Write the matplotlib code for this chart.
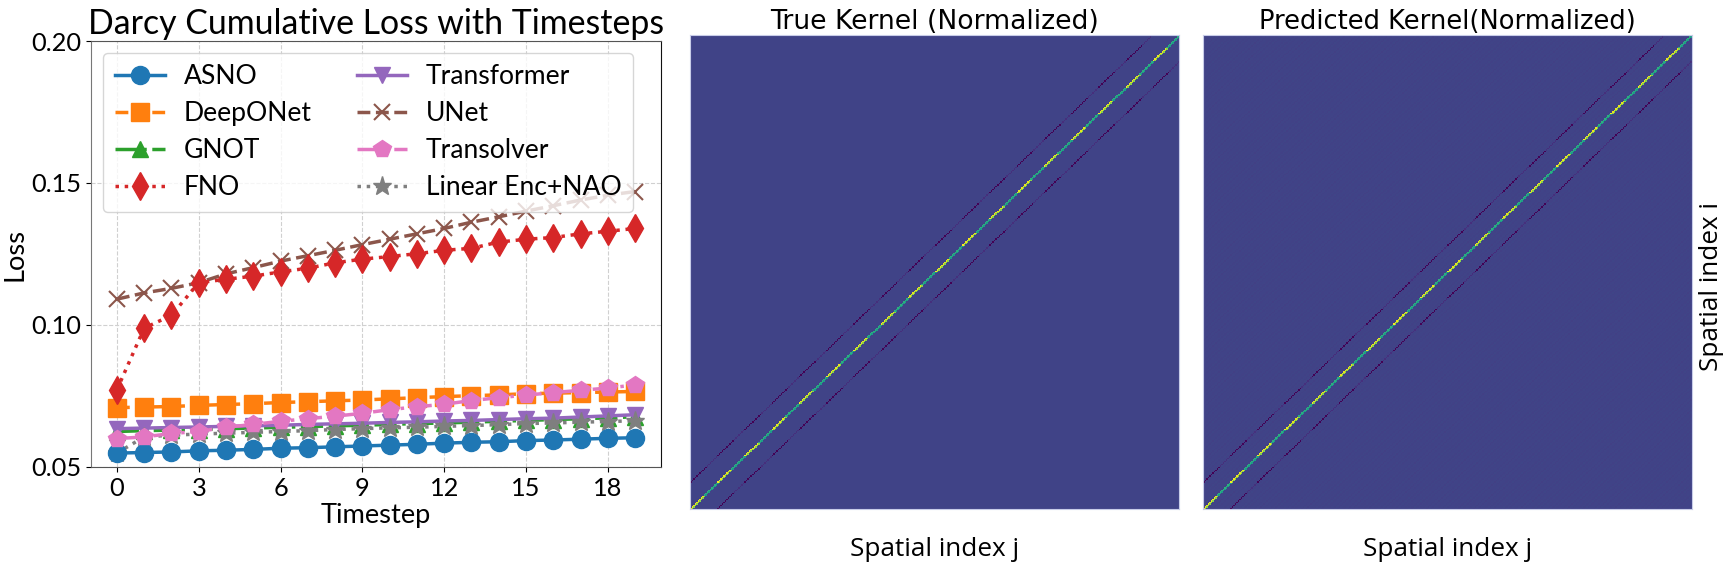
import numpy as np
import matplotlib
matplotlib.use("Agg")
import matplotlib.pyplot as plt

# ---------------- data ----------------
timesteps = list(range(20))
asno = [0.0549, 0.0551, 0.0553, 0.0557, 0.0559, 0.0562, 0.0566, 0.0568, 0.0571, 0.0574,
        0.0577, 0.0580, 0.0584, 0.0587, 0.0589, 0.0593, 0.0595, 0.0598, 0.0601, 0.0603]
deeponet = [0.0709, 0.0711, 0.0713, 0.0717, 0.0720, 0.0723, 0.0727, 0.0730, 0.0733, 0.0736,
            0.0740, 0.0744, 0.0748, 0.0751, 0.0754, 0.0758, 0.0760, 0.0762, 0.0764, 0.0766]
gnot = [0.0625, 0.0628, 0.0630, 0.0632, 0.0635, 0.0637, 0.0640, 0.0642, 0.0645, 0.0647,
        0.0650, 0.0653, 0.0655, 0.0658, 0.0661, 0.0664, 0.0667, 0.0670, 0.0673, 0.0677]
transformer = [0.0635, 0.0637, 0.0639, 0.0641, 0.0643, 0.0645, 0.0647, 0.0650, 0.0652, 0.0654,
               0.0657, 0.0659, 0.0662, 0.0664, 0.0667, 0.0670, 0.0672, 0.0676, 0.0680, 0.0684]
unet = [0.1091, 0.1113, 0.1129, 0.1149, 0.1180, 0.1202, 0.1225, 0.1244, 0.1263, 0.1283,
        0.1302, 0.1321, 0.1340, 0.1362, 0.1381, 0.1401, 0.1420, 0.1440, 0.1457, 0.1470]
fno = [0.0772, 0.0989, 0.1034, 0.1149, 0.1161, 0.1172, 0.1187, 0.1200, 0.1219, 0.1232,
       0.1241, 0.1251, 0.1263, 0.1270, 0.1292, 0.1302, 0.1308, 0.1321, 0.1330, 0.1340]
transolver = [0.0600, 0.0606, 0.0618, 0.0625, 0.0640, 0.0650, 0.0661, 0.0670, 0.0679, 0.0689,
              0.0702, 0.0712, 0.0721, 0.0734, 0.0744, 0.0753, 0.0762, 0.0770, 0.0778, 0.0789]
linear_nao = [0.0549, 0.0606, 0.0612, 0.0616, 0.0619, 0.0622, 0.0625, 0.0628, 0.0632, 0.0635,
              0.0638, 0.0640, 0.0643, 0.0646, 0.0649, 0.0653, 0.0655, 0.0658, 0.0660, 0.0663]

series = [
    ("ASNO", asno, "#1f77b4", "-", "o"),
    ("DeepONet", deeponet, "#ff7f0e", "--", "s"),
    ("GNOT", gnot, "#2ca02c", "-.", "^"),
    ("FNO", fno, "#d62728", ":", "d"),
    ("Transformer", transformer, "#9467bd", "-", "v"),
    ("UNet", unet, "#8c564b", "--", "x"),
    ("Transolver", transolver, "#e377c2", "-.", "p"),
    ("Linear Enc+NAO", linear_nao, "#7f7f7f", ":", "*"),
]
plot_order = ["GNOT", "Transformer", "Linear Enc+NAO", "ASNO", "DeepONet", "Transolver", "UNet", "FNO"]

# kernel structure (normalized kernel on a flattened 2-D grid)
grid_side = 18
n_points = grid_side * grid_side
diag_bright = 0.97
diag_mid = 0.55
offdiag_strong = -0.25
offdiag_weak = -0.08
kernel_vmin, kernel_vmax = -0.25, 1.0

def build_kernel(noise_level):
    K = np.zeros((n_points, n_points))
    idx = np.arange(n_points)
    pos = idx % grid_side
    dvals = np.where(pos < grid_side // 2, diag_bright, diag_mid)
    K[idx, idx] = dvals
    K[idx[:-1], idx[:-1] + 1] = 0.8 * dvals[:-1]
    K[idx[pos == 0], idx[pos == 0]] = 1.0
    off = idx[:-grid_side]
    vals = np.where((off % grid_side) < grid_side // 2 + 2, offdiag_strong, offdiag_weak)
    K[off, off + grid_side] = vals
    K[off + grid_side, off] = vals
    if noise_level > 0:
        ii, jj = np.meshgrid(idx, idx, indexing="ij")
        K += noise_level * np.sin(ii * 12.9898 + jj * 78.233) * np.cos(ii * 4.1 - jj * 7.3)
    return K

true_kernel = build_kernel(0.0)
pred_kernel = build_kernel(0.012)

# ---------------- figure ----------------
W, H = 1725, 569
fig = plt.figure(figsize=(W / 100, H / 100), dpi=100)
renderer = fig.canvas.get_renderer()

def ax_rect(x0, y0, x1, y1):
    return [x0 / W, 1 - y1 / H, (x1 - x0) / W, (y1 - y0) / H]

def fit_size(text, target_px, vertical=False):
    bb = text.get_window_extent(renderer=renderer)
    cur = bb.height if vertical else bb.width
    text.set_fontsize(text.get_fontsize() * target_px / cur)
    return text.get_fontsize()

ax = fig.add_axes(ax_rect(91, 41, 661, 467))
lf = "Lato"
lookup = {s[0]: s for s in series}
handles = {}
for name in plot_order:
    lab, vals, col, ls, mk = lookup[name]
    ms = 13 if mk in ("o", "s", "p") else (14 if mk in ("d", "*") else 12)
    h, = ax.plot(timesteps, vals, color=col, linestyle=ls, marker=mk, markersize=ms,
                 linewidth=2.5, markeredgewidth=1.5 if mk == "x" else 1.0, label=lab)
    handles[lab] = h
ax.set_ylim(0.05, 0.20)
ax.set_xticks([0, 3, 6, 9, 12, 15, 18])
ax.set_yticks([0.05, 0.10, 0.15, 0.20])
ax.set_yticklabels(["0.05", "0.10", "0.15", "0.20"])
ax.grid(True, linestyle="--", color="#d0d0d0", linewidth=0.8)
for side, c in [("left", "#777777"), ("bottom", "#555555"), ("top", "#555555"), ("right", "#111111")]:
    ax.spines[side].set_color(c)

# tick label size fitted to the reference width of "0.20"
probe = fig.text(0, 0, "0.20", fontsize=20, family=lf)
tick_fs = fit_size(probe, 50)
probe.remove()
ax.tick_params(labelsize=tick_fs)
for t in ax.get_xticklabels() + ax.get_yticklabels():
    t.set_fontfamily(lf)

xl = ax.set_xlabel("Timestep", fontsize=20, family=lf, labelpad=2)
fit_size(xl, 111)
yl = ax.set_ylabel("Loss", fontsize=xl.get_fontsize(), family=lf)
ax.yaxis.set_label_coords(-0.111, 0.5)
tt = ax.set_title("Darcy Cumulative Loss with Timesteps", fontsize=22, family=lf, pad=5)
fit_size(tt, 574)

probe = fig.text(0, 0, "Linear Enc+NAO", fontsize=19, family=lf)
leg_fs = fit_size(probe, 196)
probe.remove()
leg_order = [s[0] for s in series]
ax.legend([handles[n] for n in leg_order], leg_order, ncol=2, loc="upper left",
          bbox_to_anchor=(0.021, 0.973), borderaxespad=0, prop={"family": lf, "size": leg_fs},
          handlelength=1.9, handletextpad=0.7, columnspacing=1.7, labelspacing=0.45,
          borderpad=0.45)

# kernels
for rect, K, title, tw in [((690, 35, 1179, 509), true_kernel, "True Kernel (Normalized)", 330),
                           ((1203, 35, 1692, 509), pred_kernel, "Predicted Kernel(Normalized)", 376)]:
    axk = fig.add_axes(ax_rect(*rect))
    axk.imshow(K, cmap="viridis", origin="lower", aspect="auto",
               vmin=kernel_vmin, vmax=kernel_vmax, interpolation="nearest")
    axk.set_xticks([])
    axk.set_yticks([])
    for sp in axk.spines.values():
        sp.set_color("#c8cce8")
        sp.set_linewidth(0.8)
    kt = axk.set_title(title, fontsize=18, family="DejaVu Sans", pad=4)
    fit_size(kt, tw)
    kx = axk.set_xlabel("Spatial index j", fontsize=20, family="Open Sans", labelpad=20)
    fit_size(kx, 169)
    last = axk
last.yaxis.set_label_position("right")
ky = last.set_ylabel("Spatial index i", fontsize=kx.get_fontsize(), family="Open Sans", labelpad=5)
ky.set_y(0.47)

fig.savefig("out.png", dpi=100)
